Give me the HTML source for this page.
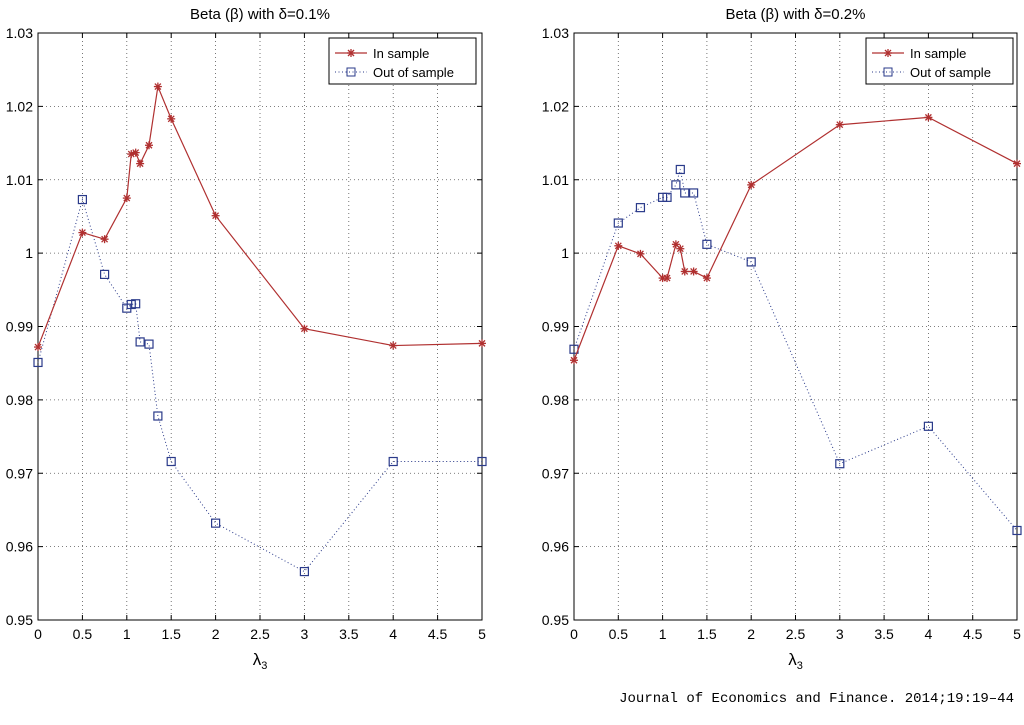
<!DOCTYPE html>
<html><head><meta charset="utf-8"><style>
body{margin:0;background:#fff;width:1024px;height:720px;overflow:hidden}
svg{font-family:"Liberation Sans",sans-serif}
</style></head><body>
<svg id="c" width="1024" height="720"></svg>
<script>
const xTicks=[0,0.5,1,1.5,2,2.5,3,3.5,4,4.5,5];
const yTicks=[0.95,0.96,0.97,0.98,0.99,1,1.01,1.02,1.03];
const yTickLabels=["0.95","0.96","0.97","0.98","0.99","1","1.01","1.02","1.03"];
const xTickLabels=["0","0.5","1","1.5","2","2.5","3","3.5","4","4.5","5"];
const xL=[0,0.5,0.75,1,1.05,1.1,1.15,1.25,1.35,1.5,2,3,4,5];
const inL=[0.9872,1.0028,1.0019,1.0075,1.0135,1.0137,1.0122,1.0147,1.0227,1.0183,1.0051,0.9897,0.9874,0.9877];
const outL=[0.9851,1.0073,0.9971,0.9925,0.993,0.9931,0.9879,0.9876,0.9778,0.9716,0.9632,0.9566,0.9716,0.9716];
const xR=[0,0.5,0.75,1,1.05,1.15,1.2,1.25,1.35,1.5,2,3,4,5];
const inR=[0.9854,1.0010,0.9999,0.9966,0.9966,1.0012,1.0006,0.9975,0.9975,0.9966,1.0093,1.0175,1.0185,1.0122];
const outR=[0.9869,1.0041,1.0062,1.0076,1.0076,1.0093,1.0114,1.0082,1.0082,1.0012,0.9988,0.9713,0.9764,0.9622];
const svg=document.getElementById('c');const NS='http://www.w3.org/2000/svg';
function mk(t,a,p,txt){const e=document.createElementNS(NS,t);for(const k in a)e.setAttribute(k,a[k]);if(txt!==undefined)e.textContent=txt;(p||svg).appendChild(e);return e;}
function panel(name,L,R,title,xs,ins,outs,legX){
  const T=33,B=620;
  const g=mk('g',{});
  const sx=v=>L+(v-0)/(5-0)*(R-L), sy=v=>B-(v-0.95)/(1.03-0.95)*(B-T);
  xTicks.forEach((v,i)=>{const x=sx(v);
    if(i>0&&i<xTicks.length-1){const l=mk('line',{x1:x,x2:x,y1:T,y2:B,stroke:'#555','stroke-width':0.8,'stroke-dasharray':'1,3'},g);}
    mk('line',{x1:x,x2:x,y1:B,y2:B-5,stroke:'#000'},g);mk('line',{x1:x,x2:x,y1:T,y2:T+5,stroke:'#000'},g);
    const t=mk('text',{x:x,y:B+19,'font-size':14,'text-anchor':'middle'},g,xTickLabels[i]);});
  yTicks.forEach((v,i)=>{const y=sy(v);
    if(i>0&&i<yTicks.length-1){const l=mk('line',{x1:L,x2:R,y1:y,y2:y,stroke:'#555','stroke-width':0.8,'stroke-dasharray':'1,3'},g);}
    mk('line',{x1:L,x2:L+5,y1:y,y2:y,stroke:'#000'},g);mk('line',{x1:R,x2:R-5,y1:y,y2:y,stroke:'#000'},g);
    const t=mk('text',{x:L-5,y:y+5,'font-size':14,'text-anchor':'end'},g,yTickLabels[i]);});
  const fr=mk('rect',{x:L,y:T,width:R-L,height:B-T,fill:'none',stroke:'#000'},g);
  const tt=mk('text',{x:(L+R)/2,y:19,'font-size':15,'text-anchor':'middle'},g,title);
  const xl=mk('text',{x:(L+R)/2,y:B+45,'font-size':17,'text-anchor':'middle'},g,'λ');
  mk('tspan',{'font-size':11,dy:4},xl,'3');
  const op=mk('polyline',{points:xs.map((x,i)=>sx(x)+','+sy(outs[i])).join(' '),fill:'none',stroke:'#2a3a8a','stroke-width':1,'stroke-dasharray':'1,2.5'},g);
  xs.forEach((x,i)=>{const r=mk('rect',{x:sx(x)-4,y:sy(outs[i])-4,width:8,height:8,fill:'none',stroke:'#2a3a8a','stroke-width':1.2},g);});
  const ip=mk('polyline',{points:xs.map((x,i)=>sx(x)+','+sy(ins[i])).join(' '),fill:'none',stroke:'#b03030','stroke-width':1.2},g);
  function star(cx,cy,p){const s=mk('g',{stroke:'#b03030','stroke-width':1.3},p);[[0,4],[4,0],[3,3],[3,-3]].forEach(d=>mk('line',{x1:cx-d[0],y1:cy-d[1],x2:cx+d[0],y2:cy+d[1]},s));return s;}
  xs.forEach((x,i)=>{const s=star(sx(x),sy(ins[i]),g);});
  const lg=mk('g',{},g);
  mk('rect',{x:legX,y:38,width:147,height:46,fill:'#fff',stroke:'#000'},lg);
  mk('line',{x1:legX+6,x2:legX+38,y1:53,y2:53,stroke:'#b03030','stroke-width':1.2},lg);star(legX+22,53,lg);
  const t1=mk('text',{x:legX+44,y:58,'font-size':13},lg,'In sample');
  mk('line',{x1:legX+6,x2:legX+38,y1:72,y2:72,stroke:'#2a3a8a','stroke-dasharray':'1,2.5'},lg);mk('rect',{x:legX+18,y:68,width:8,height:8,fill:'none',stroke:'#2a3a8a'},lg);
  const t2=mk('text',{x:legX+44,y:77,'font-size':13},lg,'Out of sample');
}
panel('left-panel',38,482,'Beta (β) with δ=0.1%',xL,inL,outL,329);
panel('right-panel',574,1017,'Beta (β) with δ=0.2%',xR,inR,outR,866);
const f=mk('text',{x:1014,y:702,'font-size':14,'text-anchor':'end','font-family':'Liberation Mono, monospace'},svg,'Journal of Economics and Finance. 2014;19:19–44');


</script>
</body></html>
